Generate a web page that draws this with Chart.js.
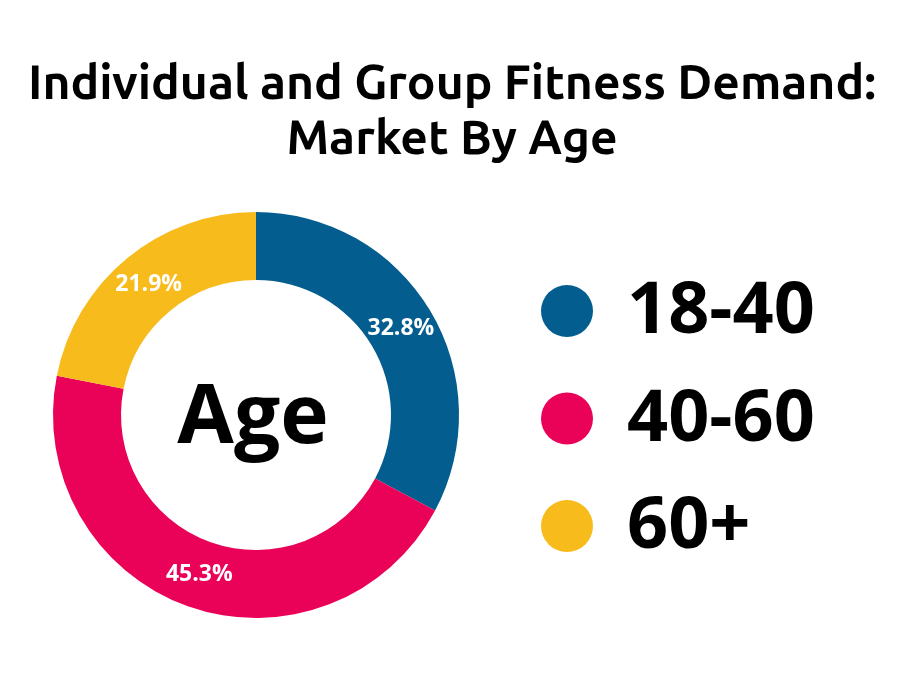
<!DOCTYPE html>
<html>
<head>
<meta charset="utf-8">
<script src="https://cdn.jsdelivr.net/npm/chart.js@4.4.1/dist/chart.umd.min.js"></script>
<style>
  html, body { margin: 0; padding: 0; background: #fff; }
  #wrap { width: 907px; height: 691px; position: relative; }
</style>
</head>
<body>
<div id="wrap"><canvas id="graficoEdad"></canvas></div>
<script>
// datos del grafico
const categorias = ['18-40', '40-60', '60+'];
const valores = [32.8, 45.3, 21.9];
const colores = ['#035d8e', '#ea0259', '#f7bb1c'];
const tituloLineas = ['Individual and Group Fitness Demand:', 'Market By Age'];
const textoCentro = 'Age';

// titulo, texto central, etiquetas y leyenda dibujados a mano
const extras = {
    id: 'extras',
    afterDraw(chart) {
        const ctx = chart.ctx;
        const area = chart.chartArea;
        const meta = chart.getDatasetMeta(0);
        ctx.save();

        // titulo
        ctx.fillStyle = '#000';
        ctx.textAlign = 'center';
        ctx.textBaseline = 'alphabetic';
        ctx.font = 'bold 48px Ubuntu, "Noto Sans", "Open Sans", sans-serif';
        ctx.fillText(tituloLineas[0], 452, 99);
        ctx.fillText(tituloLineas[1], 452, 154);

        // texto central
        const cx = (area.left + area.right) / 2;
        const cy = (area.top + area.bottom) / 2;
        ctx.font = 'bold 82px "Open Sans", sans-serif';
        ctx.fillText(textoCentro, cx - 3, cy + 28);

        // porcentajes en cada arco
        ctx.font = 'bold 23px "Open Sans", sans-serif';
        ctx.fillStyle = '#fff';
        ctx.textBaseline = 'middle';
        meta.data.forEach((arc, i) => {
            const p = arc.tooltipPosition();
            ctx.fillText(valores[i].toFixed(1) + '%', p.x, p.y);
        });

        // leyenda
        ctx.textAlign = 'left';
        ctx.textBaseline = 'alphabetic';
        ctx.font = 'bold 72px "Open Sans", sans-serif';
        categorias.forEach((cat, i) => {
            const y = 311 + i * 107.5;
            ctx.fillStyle = colores[i];
            ctx.beginPath();
            ctx.arc(567, y, 26, 0, Math.PI * 2);
            ctx.fill();
            ctx.fillStyle = '#000';
            ctx.fillText(cat, 627, y + 22);
        });
        ctx.restore();
    }
};

new Chart(document.getElementById('graficoEdad').getContext('2d'), {
    type: 'doughnut',
    data: {
        labels: categorias,
        datasets: [{
            data: valores,
            backgroundColor: colores,
            borderWidth: 0
        }]
    },
    options: {
        responsive: true,
        maintainAspectRatio: false,
        animation: false,
        cutout: '66.5%',
        layout: {
            padding: { left: 53, right: 448, top: 212, bottom: 73 }
        },
        plugins: {
            legend: { display: false },
            title: { display: false },
            tooltip: { enabled: false }
        }
    },
    plugins: [extras]
});
</script>
</body>
</html>
